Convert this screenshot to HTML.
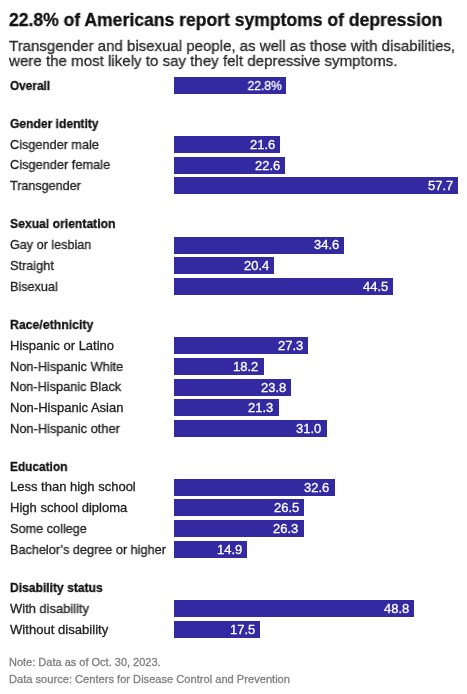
<!DOCTYPE html>
<html><head><meta charset="utf-8"><style>
html,body{margin:0;padding:0;background:#fff;}
body{width:467px;height:694px;position:relative;overflow:hidden;font-family:"Liberation Sans",sans-serif;}
.t{position:absolute;white-space:nowrap;line-height:1;will-change:transform;-webkit-text-stroke:0.3px currentColor;}
.b{position:absolute;height:17px;background:#332aa2;}
</style></head><body>
<div class="t" style="top:11.06px;font-size:18px;font-weight:bold;color:#111;left:9.00px;transform:scaleX(0.9751);transform-origin:0 0;">22.8% of Americans report symptoms of depression</div>
<div class="t" style="top:38.28px;font-size:15.5px;color:#2a2a2a;left:9.30px;transform:scaleX(0.9690);transform-origin:0 0;">Transgender and bisexual people, as well as those with disabilities,</div>
<div class="t" style="top:52.88px;font-size:15.5px;color:#2a2a2a;left:9.30px;transform:scaleX(0.9738);transform-origin:0 0;">were the most likely to say they felt depressive symptoms.</div>
<div class="b" style="top:77.00px;left:174.00px;width:112.27px"></div>
<div class="t" style="top:78.80px;font-size:13px;font-weight:bold;color:#111;left:10.00px;transform:scaleX(0.9090);transform-origin:0 0;">Overall</div>
<div class="t" style="top:78.90px;font-size:13px;color:#fff;right:185.33px;transform:scaleX(0.9300);transform-origin:100% 0;">22.8%</div>
<div class="t" style="top:116.70px;font-size:13px;font-weight:bold;color:#111;left:10.00px;transform:scaleX(0.9290);transform-origin:0 0;">Gender identity</div>
<div class="b" style="top:135.80px;left:174.00px;width:106.36px"></div>
<div class="t" style="top:137.60px;font-size:13px;color:#222;left:10.00px;transform:scaleX(0.9770);transform-origin:0 0;">Cisgender male</div>
<div class="t" style="top:137.70px;font-size:13px;color:#fff;right:191.84px;">21.6</div>
<div class="b" style="top:156.60px;left:174.00px;width:111.28px"></div>
<div class="t" style="top:158.40px;font-size:13px;color:#222;left:10.00px;transform:scaleX(0.9830);transform-origin:0 0;">Cisgender female</div>
<div class="t" style="top:158.50px;font-size:13px;color:#fff;right:186.92px;">22.6</div>
<div class="b" style="top:177.40px;left:174.00px;width:284.11px"></div>
<div class="t" style="top:179.20px;font-size:13px;color:#222;left:10.00px;transform:scaleX(0.9660);transform-origin:0 0;">Transgender</div>
<div class="t" style="top:179.30px;font-size:13px;color:#fff;right:14.09px;">57.7</div>
<div class="t" style="top:217.40px;font-size:13px;font-weight:bold;color:#111;left:10.00px;transform:scaleX(0.9360);transform-origin:0 0;">Sexual orientation</div>
<div class="b" style="top:236.50px;left:174.00px;width:170.37px"></div>
<div class="t" style="top:238.30px;font-size:13px;color:#222;left:10.00px;transform:scaleX(0.9700);transform-origin:0 0;">Gay or lesbian</div>
<div class="t" style="top:238.40px;font-size:13px;color:#fff;right:127.83px;">34.6</div>
<div class="b" style="top:257.30px;left:174.00px;width:100.45px"></div>
<div class="t" style="top:259.10px;font-size:13px;color:#222;left:10.00px;transform:scaleX(0.9780);transform-origin:0 0;">Straight</div>
<div class="t" style="top:259.20px;font-size:13px;color:#fff;right:197.75px;">20.4</div>
<div class="b" style="top:278.10px;left:174.00px;width:219.12px"></div>
<div class="t" style="top:279.90px;font-size:13px;color:#222;left:10.00px;transform:scaleX(0.9710);transform-origin:0 0;">Bisexual</div>
<div class="t" style="top:280.00px;font-size:13px;color:#fff;right:79.08px;">44.5</div>
<div class="t" style="top:317.90px;font-size:13px;font-weight:bold;color:#111;left:10.00px;transform:scaleX(0.9450);transform-origin:0 0;">Race/ethnicity</div>
<div class="b" style="top:337.00px;left:174.00px;width:134.43px"></div>
<div class="t" style="top:338.80px;font-size:13px;color:#222;left:10.00px;">Hispanic or Latino</div>
<div class="t" style="top:338.90px;font-size:13px;color:#fff;right:163.77px;">27.3</div>
<div class="b" style="top:357.80px;left:174.00px;width:89.62px"></div>
<div class="t" style="top:359.60px;font-size:13px;color:#222;left:10.00px;transform:scaleX(0.9850);transform-origin:0 0;">Non-Hispanic White</div>
<div class="t" style="top:359.70px;font-size:13px;color:#fff;right:208.58px;">18.2</div>
<div class="b" style="top:378.60px;left:174.00px;width:117.19px"></div>
<div class="t" style="top:380.40px;font-size:13px;color:#222;left:10.00px;transform:scaleX(0.9790);transform-origin:0 0;">Non-Hispanic Black</div>
<div class="t" style="top:380.50px;font-size:13px;color:#fff;right:181.01px;">23.8</div>
<div class="b" style="top:399.40px;left:174.00px;width:104.88px"></div>
<div class="t" style="top:401.20px;font-size:13px;color:#222;left:10.00px;transform:scaleX(0.9960);transform-origin:0 0;">Non-Hispanic Asian</div>
<div class="t" style="top:401.30px;font-size:13px;color:#fff;right:193.32px;">21.3</div>
<div class="b" style="top:420.20px;left:174.00px;width:152.64px"></div>
<div class="t" style="top:422.00px;font-size:13px;color:#222;left:10.00px;transform:scaleX(0.9870);transform-origin:0 0;">Non-Hispanic other</div>
<div class="t" style="top:422.10px;font-size:13px;color:#fff;right:145.56px;">31.0</div>
<div class="t" style="top:459.50px;font-size:13px;font-weight:bold;color:#111;left:10.00px;transform:scaleX(0.9130);transform-origin:0 0;">Education</div>
<div class="b" style="top:478.60px;left:174.00px;width:160.52px"></div>
<div class="t" style="top:480.40px;font-size:13px;color:#222;left:10.00px;transform:scaleX(0.9990);transform-origin:0 0;">Less than high school</div>
<div class="t" style="top:480.50px;font-size:13px;color:#fff;right:137.68px;">32.6</div>
<div class="b" style="top:499.40px;left:174.00px;width:130.49px"></div>
<div class="t" style="top:501.20px;font-size:13px;color:#222;left:10.00px;transform:scaleX(1.0020);transform-origin:0 0;">High school diploma</div>
<div class="t" style="top:501.30px;font-size:13px;color:#fff;right:167.71px;">26.5</div>
<div class="b" style="top:520.20px;left:174.00px;width:129.50px"></div>
<div class="t" style="top:522.00px;font-size:13px;color:#222;left:10.00px;transform:scaleX(0.9760);transform-origin:0 0;">Some college</div>
<div class="t" style="top:522.10px;font-size:13px;color:#fff;right:168.70px;">26.3</div>
<div class="b" style="top:541.00px;left:174.00px;width:73.37px"></div>
<div class="t" style="top:542.80px;font-size:13px;color:#222;left:10.00px;transform:scaleX(0.9740);transform-origin:0 0;">Bachelor’s degree or higher</div>
<div class="t" style="top:542.90px;font-size:13px;color:#fff;right:224.83px;">14.9</div>
<div class="t" style="top:580.90px;font-size:13px;font-weight:bold;color:#111;left:10.00px;transform:scaleX(0.9290);transform-origin:0 0;">Disability status</div>
<div class="b" style="top:600.00px;left:174.00px;width:240.29px"></div>
<div class="t" style="top:601.80px;font-size:13px;color:#222;left:10.00px;transform:scaleX(0.9930);transform-origin:0 0;">With disability</div>
<div class="t" style="top:601.90px;font-size:13px;color:#fff;right:57.91px;">48.8</div>
<div class="b" style="top:620.80px;left:174.00px;width:86.17px"></div>
<div class="t" style="top:622.60px;font-size:13px;color:#222;left:10.00px;transform:scaleX(1.0070);transform-origin:0 0;">Without disability</div>
<div class="t" style="top:622.70px;font-size:13px;color:#fff;right:212.03px;">17.5</div>
<div class="t" style="top:657.19px;font-size:11px;color:#808080;left:8.70px;">Note: Data as of Oct. 30, 2023.</div>
<div class="t" style="top:674.29px;font-size:11px;color:#808080;left:8.70px;transform:scaleX(1.0100);transform-origin:0 0;">Data source: Centers for Disease Control and Prevention</div>
</body></html>
